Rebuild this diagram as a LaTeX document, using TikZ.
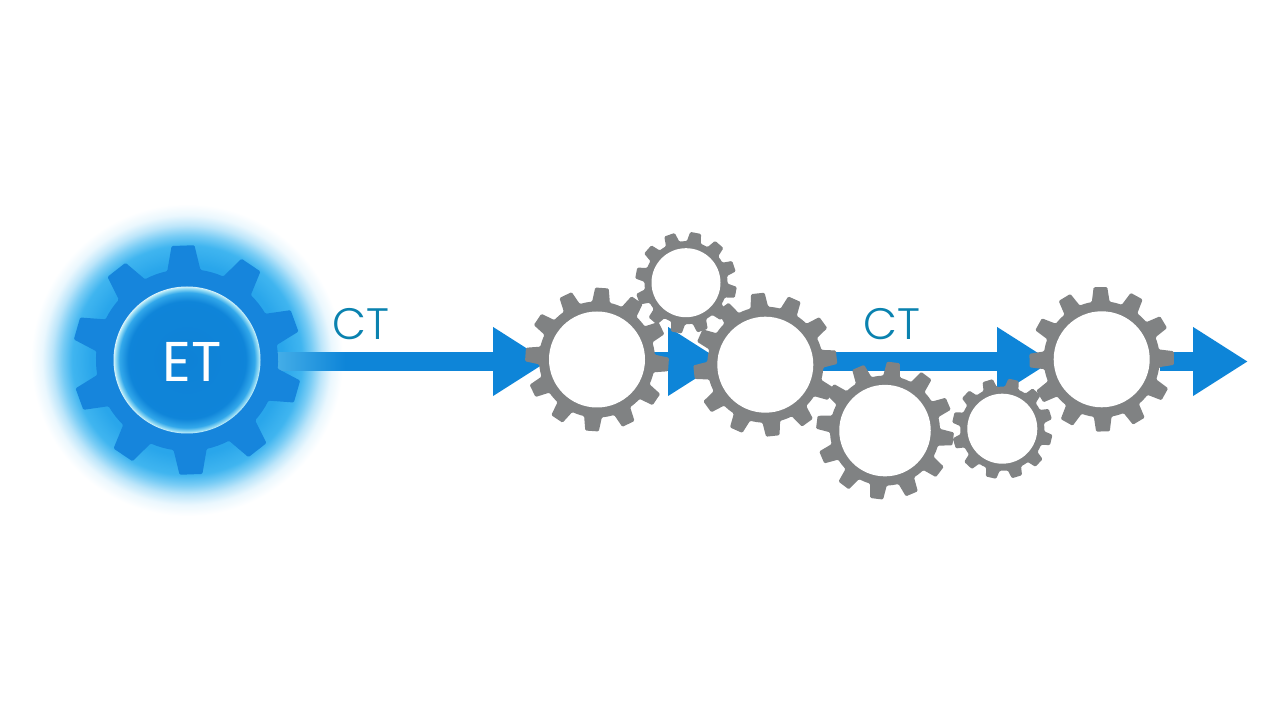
\documentclass[tikz,border=0pt]{standalone}
\usepackage{fontspec}
\usetikzlibrary{arrows.meta}
\newfontfamily\labelfont{Poppins Light}
\newfontfamily\hubfont{Poppins}
\definecolor{arrowblue}{RGB}{14,133,216}
\definecolor{shaftlight}{RGB}{70,175,232}
\definecolor{gearblue}{RGB}{22,133,220}
\definecolor{geargray}{RGB}{128,130,131}
\definecolor{ctteal}{RGB}{10,130,175}
\pgfdeclareradialshading{etglow}{\pgfpoint{0bp}{0bp}}{%
  rgb(0bp)=(0.16,0.65,0.92);
  rgb(15.2bp)=(0.16,0.65,0.92);
  rgb(18.4bp)=(0.25,0.71,0.94);
  rgb(20bp)=(0.47,0.80,0.96);
  rgb(21.6bp)=(0.74,0.90,0.98);
  rgb(23.2bp)=(0.92,0.97,0.995);
  rgb(25bp)=(1,1,1);
  rgb(50bp)=(1,1,1)}
\pgfdeclareradialshading{ethub}{\pgfpoint{0bp}{0bp}}{%
  rgb(0bp)=(0.055,0.51,0.84);
  rgb(20bp)=(0.06,0.52,0.85);
  rgb(23bp)=(0.2,0.66,0.92);
  rgb(24.4bp)=(0.6,0.87,0.96);
  rgb(25bp)=(0.85,0.95,0.98);
  rgb(50bp)=(0.85,0.95,0.98)}
\tikzset{
  flowarrow/.style={draw=arrowblue,line width=19pt,-{Triangle[length=55pt,width=65pt]}},
  gearhole/.style={circle,fill=white,inner sep=0pt,outer sep=0pt},
  ctlabel/.style={text=ctteal,font=\labelfont\fontsize{44}{44}\selectfont,inner sep=0pt},
  etlabel/.style={text=white,font=\hubfont\fontsize{56}{56}\selectfont,inner sep=0pt},
}
% #1 centre, #2 teeth, #3 root r, #4 tip r, #5 first tooth angle, #6 base half angle, #7 tip half angle, #8 colour
\newcommand{\gearbody}[8]{%
  \begin{scope}[shift={(#1)}]
    \fill[#8,rounded corners=1.2pt] ({#5-#6}:#3)
      \foreach \k in {1,...,#2}{
        -- ({#5+(\k-1)*360/#2-#7}:#4)
        -- ({#5+(\k-1)*360/#2+#7}:#4)
        -- ({#5+(\k-1)*360/#2+#6}:#3)
        arc[start angle={#5+(\k-1)*360/#2+#6},end angle={#5+\k*360/#2-#6},radius=#3]
      } -- cycle;
  \end{scope}}
\begin{document}
\begin{tikzpicture}[x=1pt,y=1pt]
\useasboundingbox (0,0) rectangle (1280,720);
\fill[white] (0,0) rectangle (1280,720);
% centres (y = 720 - pixel y)
\coordinate (etc) at (187,360);
\coordinate (c1) at (597,360.5);
\coordinate (c2) at (686,437.3);
\coordinate (c3) at (765.3,355.3);
\coordinate (c4) at (885,289.4);
\coordinate (c5) at (1002.3,291.3);
\coordinate (c6) at (1101.7,360.7);
% arrow ends
\coordinate (a1s) at (270,358.5);
\coordinate (a1e) at (548,358.5);
\coordinate (a2s) at (640,358.5);
\coordinate (a2e) at (723,358.5);
\coordinate (a3s) at (810,358.5);
\coordinate (a3e) at (1052,358.5);
\coordinate (a4s) at (1160,358.5);
\coordinate (a4e) at (1248,358.5);
% glow
\path[shading=etglow] (etc) circle[radius=156];
% arrows
\draw[flowarrow] (a1s) -- (a1e);
\shade[left color=shaftlight,right color=arrowblue] (275,349.4) rectangle (345,367.6);
\draw[flowarrow] (a2s) -- (a2e);
\draw[flowarrow] (a3s) -- (a3e);
\draw[flowarrow] (a4s) -- (a4e);
% gears
\gearbody{etc}{10}{91}{115}{92}{10.5}{5.7}{gearblue}
\gearbody{c1}{12}{58}{72}{86}{8.8}{5.4}{geargray}
\gearbody{c2}{12}{41.5}{51}{79}{9.8}{6.2}{geargray}
\gearbody{c3}{12}{58}{72}{96}{8.8}{5.4}{geargray}
\gearbody{c4}{12}{55}{69}{83}{8.8}{5.4}{geargray}
\gearbody{c5}{12}{42}{50.5}{77}{9.5}{6}{geargray}
\gearbody{c6}{12}{58}{72.5}{91}{8.8}{5.4}{geargray}
% hub and holes
\node[circle,inner sep=0pt,minimum size=147pt,shading=ethub] (et) at (etc) {};
\node[gearhole,minimum size=96pt] (g1) at (c1) {};
\node[gearhole,minimum size=69pt] (g2) at (c2) {};
\node[gearhole,minimum size=96pt] (g3) at (c3) {};
\node[gearhole,minimum size=91.5pt] (g4) at (c4) {};
\node[gearhole,minimum size=70pt] (g5) at (c5) {};
\node[gearhole,minimum size=96pt] (g6) at (c6) {};
% labels
\node[etlabel] (etl) at (192,358) {ET};
\node[ctlabel] (ct1) at (360.5,396) {CT};
\node[ctlabel] (ct2) at (892,396) {CT};
\end{tikzpicture}
\end{document}
